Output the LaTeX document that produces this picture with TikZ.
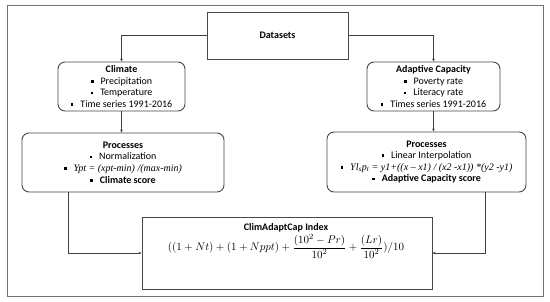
\documentclass[tikz,border=0pt]{standalone}
\usepackage{fontspec}
\setmainfont{Carlito}
\newfontfamily\tms{Liberation Serif}
\usetikzlibrary{arrows.meta}
\newcommand{\bul}{\raisebox{1.6pt}{\rule{2.6pt}{2.6pt}}\hspace{7pt}}
\tikzset{
  box/.style={draw=black!72, line width=0.9pt, align=center, font=\fontsize{10}{11.6}\selectfont, inner sep=2pt},
  rbox/.style={box, rounded corners=7pt},
  conn/.style={draw=black!75, line width=0.7pt, -{Stealth[length=3pt,width=2.6pt]}},
}
\begin{document}
\begin{tikzpicture}[x=1pt,y=-1pt]
\useasboundingbox (0,0) rectangle (550,301);
\draw[black!55, line width=1pt] (7,5) rectangle (543,296);
\node[box, minimum width=141pt, minimum height=47pt] (ds) at (277.5,35.5) {\textbf{Datasets}};
\node[rbox, minimum width=127pt, minimum height=49pt] (cl) at (121.5,86.5)
  {\textbf{Climate}\\ \bul Precipitation\\ \bul Temperature\\ \bul Time series 1991-2016};
\node[rbox, minimum width=133pt, minimum height=49pt] (ac) at (433.5,86.5)
  {\textbf{Adaptive Capacity}\\ \bul Poverty rate\\ \bul Literacy rate\\ \bul Times series 1991-2016};
\node[rbox, minimum width=202pt, minimum height=59pt] (p1) at (123,162.5)
  {\textbf{Processes}\\ \bul Normalization\\ \bul {\tms\itshape Ypt = (xpt-min) /(max-min)}\\ \bul \textbf{Climate score}};
\node[rbox, minimum width=199pt, minimum height=60pt] (p2) at (426.5,162)
  {\textbf{Processes}\\ \bul Linear Interpolation\\ \bul {\tms\itshape Yl\textsubscript{s}p\textsubscript{t} = y1+((x – x1) / (x2 -x1)) *(y2 -y1)}\\ \bul \textbf{Adaptive Capacity score}};
\node[box, minimum width=290pt, minimum height=72pt] (ix) at (287,253) {};
\node[font=\fontsize{10}{12}\selectfont, inner sep=0pt] (ixt) at (286,228) {\textbf{ClimAdaptCap Index}};
\node[inner sep=0pt, font=\fontsize{10.8}{12}\selectfont] (ixf) at (286,246) {$\displaystyle ((1+Nt)+(1+Nppt)+\frac{(10^2-Pr)}{10^2}+\frac{(Lr)}{10^2})/10$};
\draw[conn] (ds.west) -| (cl.north);
\draw[conn] (ds.east) -| (ac.north);
\draw[conn] (cl.south) -- (cl.south |- p1.north);
\draw[conn] (ac.south) -- (ac.south |- p2.north);
\coordinate (a1) at (68,192);
\coordinate (a2) at (485,192);
\draw[conn] (a1) |- (ix.west);
\draw[conn] (a2) |- (ix.east);
\end{tikzpicture}
\end{document}
